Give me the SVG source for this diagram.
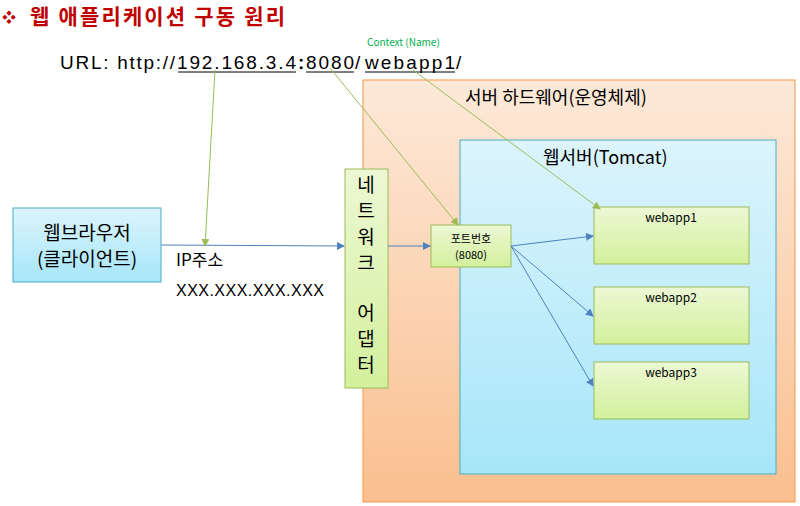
<svg xmlns="http://www.w3.org/2000/svg" width="800" height="506" viewBox="0 0 800 506">
<defs>
<linearGradient id="gOr" x1="0" y1="0" x2="0" y2="1"><stop offset="0" stop-color="#fde9d9"/><stop offset="1" stop-color="#fabf8f"/></linearGradient>
<linearGradient id="gBl" x1="0" y1="0" x2="0" y2="1"><stop offset="0" stop-color="#dcf4fc"/><stop offset="1" stop-color="#a6e6f9"/></linearGradient>
<linearGradient id="gGr" x1="0" y1="0" x2="0" y2="1"><stop offset="0" stop-color="#ecf8d4"/><stop offset="1" stop-color="#d3f09c"/></linearGradient>
<marker id="aB" markerWidth="8" markerHeight="8" refX="7" refY="4" orient="auto" markerUnits="userSpaceOnUse"><path d="M0,0 L8,4 L0,8 z" fill="#4f81bd"/></marker>
<marker id="aG" markerWidth="8" markerHeight="8" refX="7" refY="4" orient="auto" markerUnits="userSpaceOnUse"><path d="M0,0 L8,4 L0,8 z" fill="#9bbb59"/></marker>
</defs>
<style>
text{font-family:"Noto Sans CJK KR","Liberation Sans",sans-serif;fill:#000}
.u{font-family:"Liberation Sans",sans-serif;font-size:19px}
.gr{fill:url(#gGr);stroke:#9bbb59;stroke-width:1}
.wa{font-size:12px}
.b{stroke:#4f81bd;stroke-width:1;fill:none;marker-end:url(#aB)}
.g{stroke:#9bbb59;stroke-width:1;fill:none;marker-end:url(#aG)}
</style>
<g id="title">
<text x="2" y="22" font-size="14" style="fill:#c00000">❖</text>
<text x="30" y="24" font-size="21" font-weight="bold" textLength="255" style="fill:#c00000">웹 애플리케이션 구동 원리</text>
</g>
<g id="url">
<text x="367" y="46" font-size="10" style="fill:#00b050">Context (Name)</text>
<text class="u" x="60" y="69" textLength="115">URL: http://</text>
<text class="u" x="177" y="69" textLength="119">192.168.3.4</text>
<text class="u" x="298" y="69" font-weight="bold">:</text>
<text class="u" x="306" y="69" textLength="48">8080</text>
<text class="u" x="355" y="69" textLength="8">/</text>
<text class="u" x="365" y="69" textLength="90">webapp1</text>
<text class="u" x="456" y="69" textLength="8">/</text>
<path d="M178,72H296 M306,72H354 M365,72H455" stroke="#000" stroke-width="1"/>
</g>
<g id="server"><rect x="363" y="80" width="432" height="422" fill="url(#gOr)" stroke="#f79646"/>
<text x="465" y="104" font-size="18">서버 하드웨어(운영체제)</text></g>
<g id="tomcat"><rect x="460" y="140" width="316" height="334" fill="url(#gBl)" stroke="#4bacc6"/>
<text x="543" y="164" font-size="18">웹서버(Tomcat)</text></g>
<g id="browser"><rect x="13" y="208" width="148" height="74" fill="url(#gBl)" stroke="#4bacc6"/>
<text x="87" y="240" font-size="19" text-anchor="middle">웹브라우저</text>
<text x="87" y="266" font-size="19" text-anchor="middle">(클라이언트)</text></g>
<g id="adapter"><rect class="gr" x="345" y="169" width="43" height="219"/>
<text x="366" font-size="19" text-anchor="middle"><tspan x="366" y="192">네</tspan><tspan x="366" y="218">트</tspan><tspan x="366" y="244">워</tspan><tspan x="366" y="270">크</tspan><tspan x="366" y="320">어</tspan><tspan x="366" y="346">댑</tspan><tspan x="366" y="372">터</tspan></text></g>
<g id="ip"><text x="176" y="266" font-size="17">IP주소</text>
<text x="176" y="296" font-size="16" textLength="148" style="font-family:'Liberation Sans',sans-serif">XXX.XXX.XXX.XXX</text></g>
<g id="port"><rect class="gr" x="431" y="225" width="80" height="42"/>
<text x="471" y="243" font-size="11" text-anchor="middle">포트번호</text>
<text x="471" y="259" font-size="11" text-anchor="middle">(8080)</text></g>
<g id="webapp1"><rect class="gr" x="594" y="207" width="155" height="57"/><text class="wa" x="671" y="222" text-anchor="middle">webapp1</text></g>
<g id="webapp2"><rect class="gr" x="594" y="287" width="155" height="57"/><text class="wa" x="671" y="302" text-anchor="middle">webapp2</text></g>
<g id="webapp3"><rect class="gr" x="594" y="362" width="155" height="57"/><text class="wa" x="671" y="377" text-anchor="middle">webapp3</text></g>
<g id="connectors">
<path class="b" d="M161,245 L344,246"/>
<path class="b" d="M388,246 L430,246"/>
<path class="b" d="M511,246 L593,236"/>
<path class="b" d="M511,246 L593,316"/>
<path class="b" d="M511,246 L593,386"/>
<path class="g" d="M215,70 L205,246"/>
<path class="g" d="M330,68 L458,225"/>
<path class="g" d="M413,70 L600,209"/>
</g>
</svg>
